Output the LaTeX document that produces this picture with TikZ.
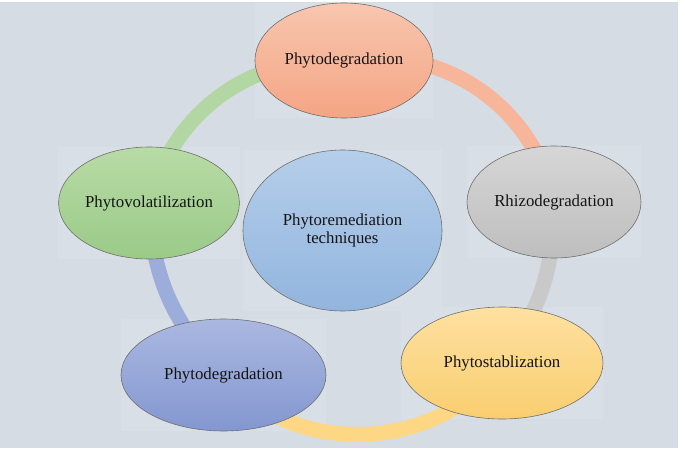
\documentclass[tikz,border=0pt]{standalone}
\usepackage{fontspec}
\setmainfont{Liberation Serif}
\usetikzlibrary{
    shapes.geometric,
    backgrounds,
}
\definecolor{pagebg}{HTML}{D5DCE4}
\definecolor{halobg}{HTML}{D9DFE6}
\definecolor{edgegray}{HTML}{6F6F6F}
\definecolor{txt}{HTML}{141414}
\definecolor{orgtop}{HTML}{F8C6AF}
\definecolor{orgbot}{HTML}{F4A584}
\definecolor{orgring}{HTML}{F7B59A}
\definecolor{grytop}{HTML}{D6D6D6}
\definecolor{grybot}{HTML}{BEBEBE}
\definecolor{gryring}{HTML}{C9C9C9}
\definecolor{ylwtop}{HTML}{FEE0A0}
\definecolor{ylwbot}{HTML}{F9CE70}
\definecolor{ylwring}{HTML}{FDD784}
\definecolor{purtop}{HTML}{AAB8E1}
\definecolor{purbot}{HTML}{8397D0}
\definecolor{purring}{HTML}{9CACDB}
\definecolor{grntop}{HTML}{B8DBA6}
\definecolor{grnbot}{HTML}{9ACA88}
\definecolor{grnring}{HTML}{B3D7A2}
\definecolor{coretop}{HTML}{B5CEEA}
\definecolor{corebot}{HTML}{92B5DE}

\begin{document}
\begin{tikzpicture}[
    x=1pt, y=1pt,
    pbox/.style = {ellipse, draw=edgegray, line width=0.6pt, inner sep=0pt,
                   align=center, text=txt,
                   font=\fontsize{16.8}{18.5}\selectfont},
    obox/.style = {pbox, top color=orgtop,  bottom color=orgbot},
    gbox/.style = {pbox, top color=grytop,  bottom color=grybot},
    ybox/.style = {pbox, top color=ylwtop,  bottom color=ylwbot},
    ubox/.style = {pbox, top color=purtop,  bottom color=purbot},
    vbox/.style = {pbox, top color=grntop,  bottom color=grnbot},
    cbox/.style = {pbox, top color=coretop, bottom color=corebot},
    ring/.style = {line width=15pt},
    halo/.style = {fill=halobg},
]
\useasboundingbox (0,0) rectangle (685,448);

%% ── Technique ellipses round the ring ───────────────────────────────────────
\node[obox, minimum width=178pt, minimum height=115pt] (ptop)  at (344.0, 387.5) {Phytodegradation};
\node[gbox, minimum width=174pt, minimum height=112pt] (rhizo) at (554.0, 246.0) {Rhizodegradation};
\node[ybox, minimum width=202pt, minimum height=112pt] (stab)  at (502.0,  85.0) {Phytostablization};
\node[ubox, minimum width=205pt, minimum height=112pt] (pdeg)  at (223.5,  73.0) {Phytodegradation};
\node[vbox, minimum width=180pt, minimum height=112pt] (volat) at (149.0, 245.0) {Phytovolatilization};

%% ── Centre ───────────────────────────────────────────────────────────────────
\node[cbox, minimum width=199pt, minimum height=161pt] (core)  at (342.5, 217.5) {Phytoremediation\\techniques};

\begin{scope}[on background layer]
%% ── Page ─────────────────────────────────────────────────────────────────────
\fill[white]  (0,0) rectangle (685,448);
\fill[pagebg] (0,0) rectangle (678,446);

%% ── Faint boxes behind the ellipses ──────────────────────────────────────────
\fill[halo] (ptop.west  |- ptop.south)  rectangle (ptop.east  |- ptop.north);
\fill[halo] (rhizo.west |- rhizo.south) rectangle (rhizo.east |- rhizo.north);
\fill[halo] (stab.west  |- stab.south)  rectangle (stab.east  |- stab.north);
\fill[halo] (pdeg.west  |- pdeg.south)  rectangle (pdeg.east  |- pdeg.north);
\fill[halo] (volat.west |- volat.south) rectangle (volat.east |- volat.north);
\fill[halo] (core.west  |- core.south)  rectangle (core.east  |- core.north);

%% ── Ring segments (clockwise) ────────────────────────────────────────────────
\draw[ring, orgring] (ptop.center)  to[bend left=44] (rhizo.center);
\draw[ring, gryring] (rhizo.center) to[bend left=18] (stab.center);
\draw[ring, ylwring] (stab.center)  to[bend left=53] (pdeg.center);
\draw[ring, purring] (pdeg.center)  to[bend left=21] (volat.center);
\draw[ring, grnring] (volat.center) to[bend left=39] (ptop.center);
\end{scope}

\end{tikzpicture}
\end{document}
